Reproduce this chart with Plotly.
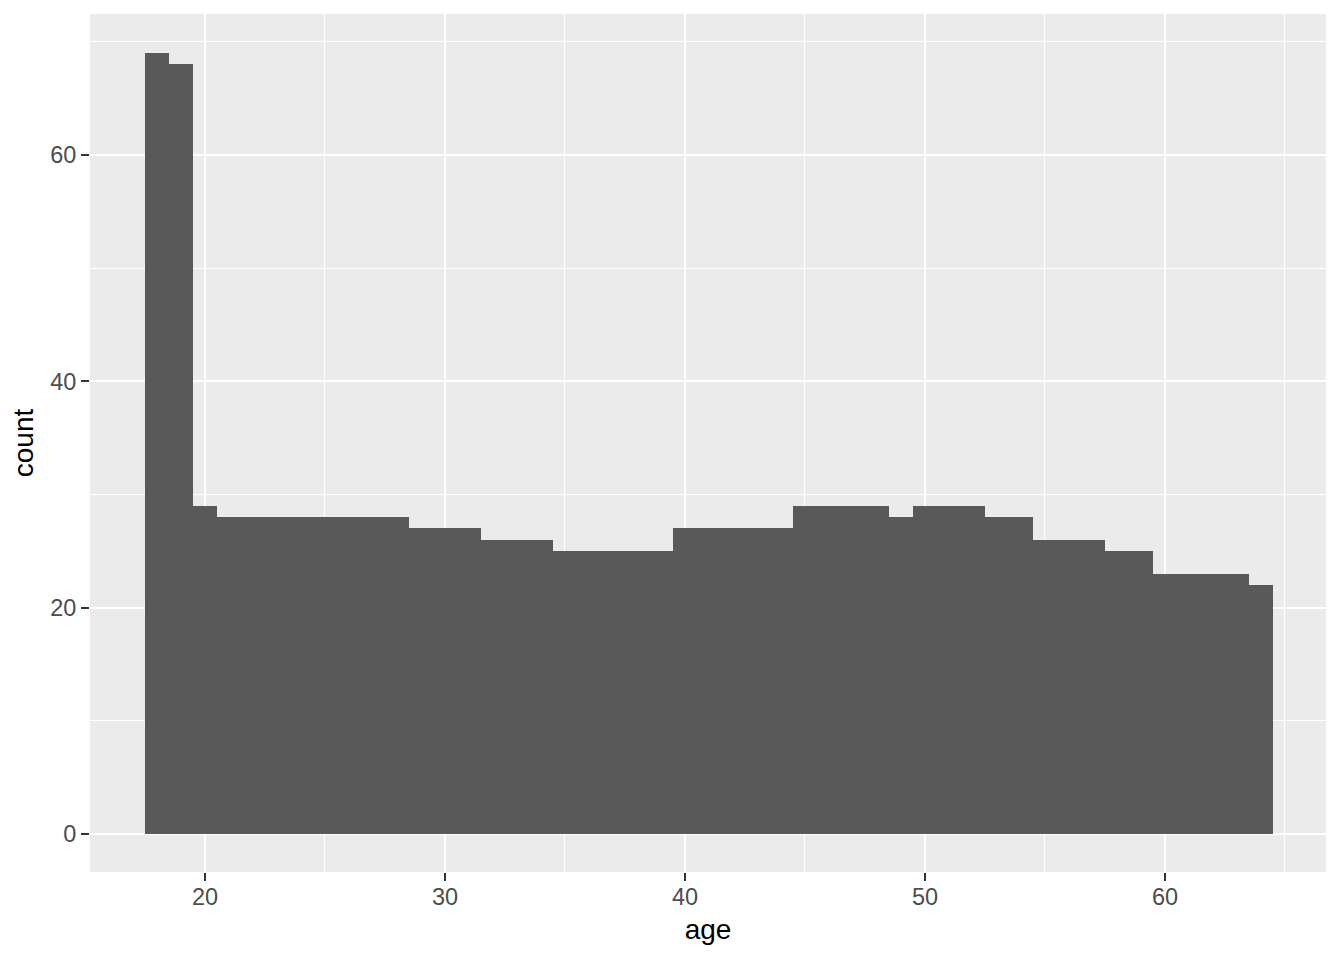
import plotly.graph_objects as go

ages = list(range(18, 65))
counts = [69, 68, 29, 28, 28, 28, 28, 28, 28, 28, 28, 27, 27, 27, 26, 26, 26,
          25, 25, 25, 25, 25, 27, 27, 27, 27, 27, 29, 29, 29, 29, 28, 29, 29,
          29, 28, 28, 26, 26, 26, 25, 25, 23, 23, 23, 23, 22]

x_ticks = [20, 30, 40, 50, 60]
y_ticks = [0, 20, 40, 60]

fig = go.Figure(go.Bar(x=ages, y=counts, width=1.0, marker=dict(color="#595959", line=dict(width=0))))

FONT = "Liberation Sans, Arial, sans-serif"
fig.update_layout(
    width=1344, height=960,
    margin=dict(l=82, r=26, t=6, b=96),
    paper_bgcolor="white", plot_bgcolor="#EBEBEB",
    bargap=0, showlegend=False,
    font=dict(family=FONT),
)
fig.update_xaxes(
    range=[15.21, 66.71], tickvals=x_ticks, ticktext=[str(v) for v in x_ticks],
    showgrid=True, gridcolor="white", gridwidth=2, zeroline=False,
    minor=dict(tickvals=[15, 25, 35, 45, 55, 65], showgrid=True, gridcolor="white", gridwidth=1, ticks=""),
    ticks="outside", ticklen=8, tickcolor="#333333", tickwidth=2,
    ticklabelstandoff=-4,
    tickfont=dict(size=23.5, color="#4D4D4D", family=FONT),
    title=dict(text="age", font=dict(size=28, color="black", family=FONT), standoff=10),
    showline=False,
)
fig.update_yaxes(
    range=[-3.36, 72.46], tickvals=y_ticks, ticktext=[str(v) for v in y_ticks],
    showgrid=True, gridcolor="white", gridwidth=2, zeroline=False,
    minor=dict(tickvals=[10, 30, 50, 70], showgrid=True, gridcolor="white", gridwidth=1, ticks=""),
    ticks="outside", ticklen=8, tickcolor="#333333", tickwidth=2,
    tickfont=dict(size=23.5, color="#4D4D4D", family=FONT),
    title=dict(text="count", font=dict(size=28, color="black", family=FONT), standoff=9),
    showline=False,
)

fig.write_html("out.html")
